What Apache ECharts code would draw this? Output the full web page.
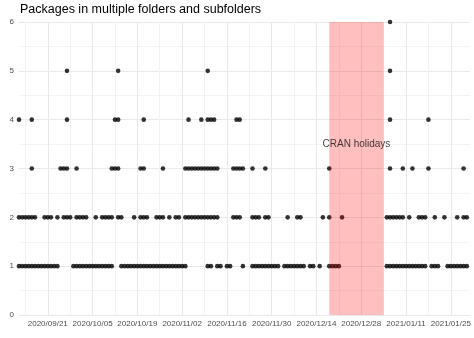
<!DOCTYPE html>
<html><head><meta charset="utf-8">
<script src="https://cdn.jsdelivr.net/npm/echarts@6/dist/echarts.min.js"></script>
<style>html,body{margin:0;padding:0;background:#fff}#c{width:474px;height:338px}</style>
</head><body><div id="c"></div>
<script>
const titleText = 'Packages in multiple folders and subfolders';
const xMin = '2020-09-12';
const xMax = '2021-01-31';
const majorTicks = ['2020-09-21','2020-10-05','2020-10-19','2020-11-02','2020-11-16','2020-11-30','2020-12-14','2020-12-28','2021-01-11','2021-01-25'];
const minorTicks = ['2020-09-14','2020-09-28','2020-10-12','2020-10-26','2020-11-09','2020-11-23','2020-12-07','2020-12-21','2021-01-04','2021-01-18'];
const yTicks = [0,1,2,3,4,5,6];
const holidayStart = '2020-12-18';
const holidayEnd = '2021-01-04';
const holidayLabel = 'CRAN holidays';
const holidayLabelY = 3.5;

// dates of submissions, by number of folders
const dates1 = [
'2020-09-12','2020-09-13','2020-09-14','2020-09-15','2020-09-16','2020-09-17','2020-09-18','2020-09-19','2020-09-20','2020-09-21','2020-09-22','2020-09-23','2020-09-24',
'2020-09-29','2020-09-30','2020-10-01','2020-10-02','2020-10-03','2020-10-04','2020-10-05','2020-10-06','2020-10-07','2020-10-08','2020-10-09','2020-10-10','2020-10-11',
'2020-10-14','2020-10-15','2020-10-16','2020-10-17','2020-10-18','2020-10-19','2020-10-20','2020-10-21','2020-10-22','2020-10-23','2020-10-24','2020-10-25','2020-10-26','2020-10-27','2020-10-28','2020-10-29','2020-10-30','2020-10-31','2020-11-01','2020-11-02','2020-11-03',
'2020-11-10','2020-11-11','2020-11-13','2020-11-14','2020-11-16','2020-11-17','2020-11-21',
'2020-11-24','2020-11-25','2020-11-26','2020-11-27','2020-11-28','2020-11-29','2020-11-30','2020-12-01','2020-12-02',
'2020-12-04','2020-12-05','2020-12-06','2020-12-07','2020-12-08','2020-12-09','2020-12-10',
'2020-12-12','2020-12-13','2020-12-15',
'2020-12-18','2020-12-19','2020-12-20','2020-12-21',
'2021-01-05','2021-01-06','2021-01-07','2021-01-08','2021-01-09','2021-01-10','2021-01-11','2021-01-12','2021-01-13','2021-01-14','2021-01-15','2021-01-16','2021-01-17',
'2021-01-19','2021-01-20','2021-01-21',
'2021-01-24','2021-01-25','2021-01-26','2021-01-27','2021-01-28','2021-01-29','2021-01-30'
];
const dates2 = [
'2020-09-12','2020-09-13','2020-09-14','2020-09-15','2020-09-16','2020-09-17',
'2020-09-20','2020-09-21','2020-09-22','2020-09-24','2020-09-26','2020-09-27','2020-09-28',
'2020-09-30','2020-10-01','2020-10-02','2020-10-03','2020-10-06',
'2020-10-08','2020-10-09','2020-10-10','2020-10-11','2020-10-13','2020-10-14','2020-10-18',
'2020-10-20','2020-10-21','2020-10-22','2020-10-25','2020-10-26','2020-10-27','2020-10-29','2020-10-31','2020-11-01',
'2020-11-03','2020-11-04','2020-11-05','2020-11-06','2020-11-07','2020-11-08','2020-11-09','2020-11-10','2020-11-11','2020-11-12','2020-11-13',
'2020-11-18','2020-11-19','2020-11-20','2020-11-24','2020-11-25','2020-11-26','2020-11-28','2020-11-29',
'2020-12-05','2020-12-08','2020-12-09','2020-12-16','2020-12-18','2020-12-22',
'2021-01-05','2021-01-06','2021-01-07','2021-01-08','2021-01-09','2021-01-10','2021-01-12',
'2021-01-15','2021-01-16','2021-01-17','2021-01-20','2021-01-23','2021-01-27','2021-01-29','2021-01-30'
];
const dates3 = [
'2020-09-16','2020-09-25','2020-09-26','2020-09-27','2020-09-30',
'2020-10-11','2020-10-12','2020-10-13','2020-10-20','2020-10-21','2020-10-27',
'2020-11-03','2020-11-04','2020-11-05','2020-11-06','2020-11-07','2020-11-08','2020-11-09','2020-11-10','2020-11-11','2020-11-12','2020-11-13',
'2020-11-18','2020-11-19','2020-11-20','2020-11-21','2020-11-24','2020-11-28',
'2020-12-18','2021-01-06','2021-01-10','2021-01-13','2021-01-18','2021-01-29'
];
const dates4 = [
'2020-09-12','2020-09-16','2020-09-27','2020-10-12','2020-10-13','2020-10-21',
'2020-11-04','2020-11-08','2020-11-10','2020-11-11','2020-11-12','2020-11-19','2020-11-20',
'2021-01-06','2021-01-18'
];
const dates5 = ['2020-09-27','2020-10-13','2020-11-10','2021-01-06'];
const dates6 = ['2021-01-06'];
const folderCounts = [1,2,3,4,5,6];

const ts = s => { const p = s.split('-').map(Number); return Date.UTC(p[0], p[1]-1, p[2]); };
const groups = [dates1, dates2, dates3, dates4, dates5, dates6];
const points = [];
groups.forEach((g, i) => g.forEach(d => points.push([ts(d), folderCounts[i]])));
const pad = n => (n < 10 ? '0' : '') + n;
const fmt = v => { const d = new Date(v); return d.getUTCFullYear() + '/' + pad(d.getUTCMonth()+1) + '/' + pad(d.getUTCDate()); };
const FONT = 'Liberation Sans, Arial, sans-serif';

const chart = echarts.init(document.getElementById('c'), null, {renderer: 'canvas'});
chart.setOption({
  animation: false,
  backgroundColor: '#ffffff',
  textStyle: {fontFamily: FONT},
  title: {text: titleText, left: 20, top: 3, padding: 0, textStyle: {fontSize: 12.5, fontWeight: 'normal', color: '#000', fontFamily: FONT}},
  grid: {left: 19, right: 4, top: 22, bottom: 23, containLabel: false, outerBoundsMode: 'none'},
  xAxis: [{
    type: 'value', min: ts(xMin), max: ts(xMax),
    axisLine: {show: false},
    axisTick: {show: false, customValues: majorTicks.map(ts)},
    axisLabel: {customValues: majorTicks.map(ts), formatter: fmt, fontSize: 8, color: '#4d4d4d', margin: 5, fontFamily: FONT, hideOverlap: false},
    splitLine: {show: true, lineStyle: {color: '#e9e9e9', width: 1}}
  }, {
    type: 'value', min: ts(xMin), max: ts(xMax), position: 'bottom',
    axisLine: {show: false},
    axisTick: {show: false, customValues: minorTicks.map(ts)},
    axisLabel: {show: false},
    splitLine: {show: true, lineStyle: {color: '#f3f3f3', width: 1}}
  }],
  yAxis: {
    type: 'value', min: yTicks[0], max: yTicks[yTicks.length-1], interval: 1,
    axisLine: {show: false}, axisTick: {show: false},
    axisLabel: {fontSize: 8, color: '#4d4d4d', margin: 5, fontFamily: FONT},
    splitLine: {show: true, lineStyle: {color: '#e9e9e9', width: 1}},
    minorTick: {show: false, splitNumber: 2},
    minorSplitLine: {show: true, lineStyle: {color: '#f3f3f3', width: 1}}
  },
  series: [{
    type: 'scatter', xAxisIndex: 0, z: 2,
    symbol: 'circle', symbolSize: 4.6,
    itemStyle: {color: '#000'},
    data: points,
    clip: true,
    silent: true
  }, {
    type: 'scatter', xAxisIndex: 0, z: 3, data: [],
    markArea: {
      z: 10, silent: true,
      itemStyle: {color: 'rgba(255,0,0,0.25)'},
      label: {show: false},
      data: [[{xAxis: ts(holidayStart)}, {xAxis: ts(holidayEnd)}]]
    }
  }, {
    type: 'scatter', xAxisIndex: 0, z: 20, silent: true,
    symbolSize: 0.01,
    data: [[(ts(holidayStart) + ts(holidayEnd)) / 2, holidayLabelY]],
    label: {show: true, position: 'inside', formatter: holidayLabel, fontSize: 10, color: '#111', fontFamily: FONT}
  }]
});
</script></body></html>
